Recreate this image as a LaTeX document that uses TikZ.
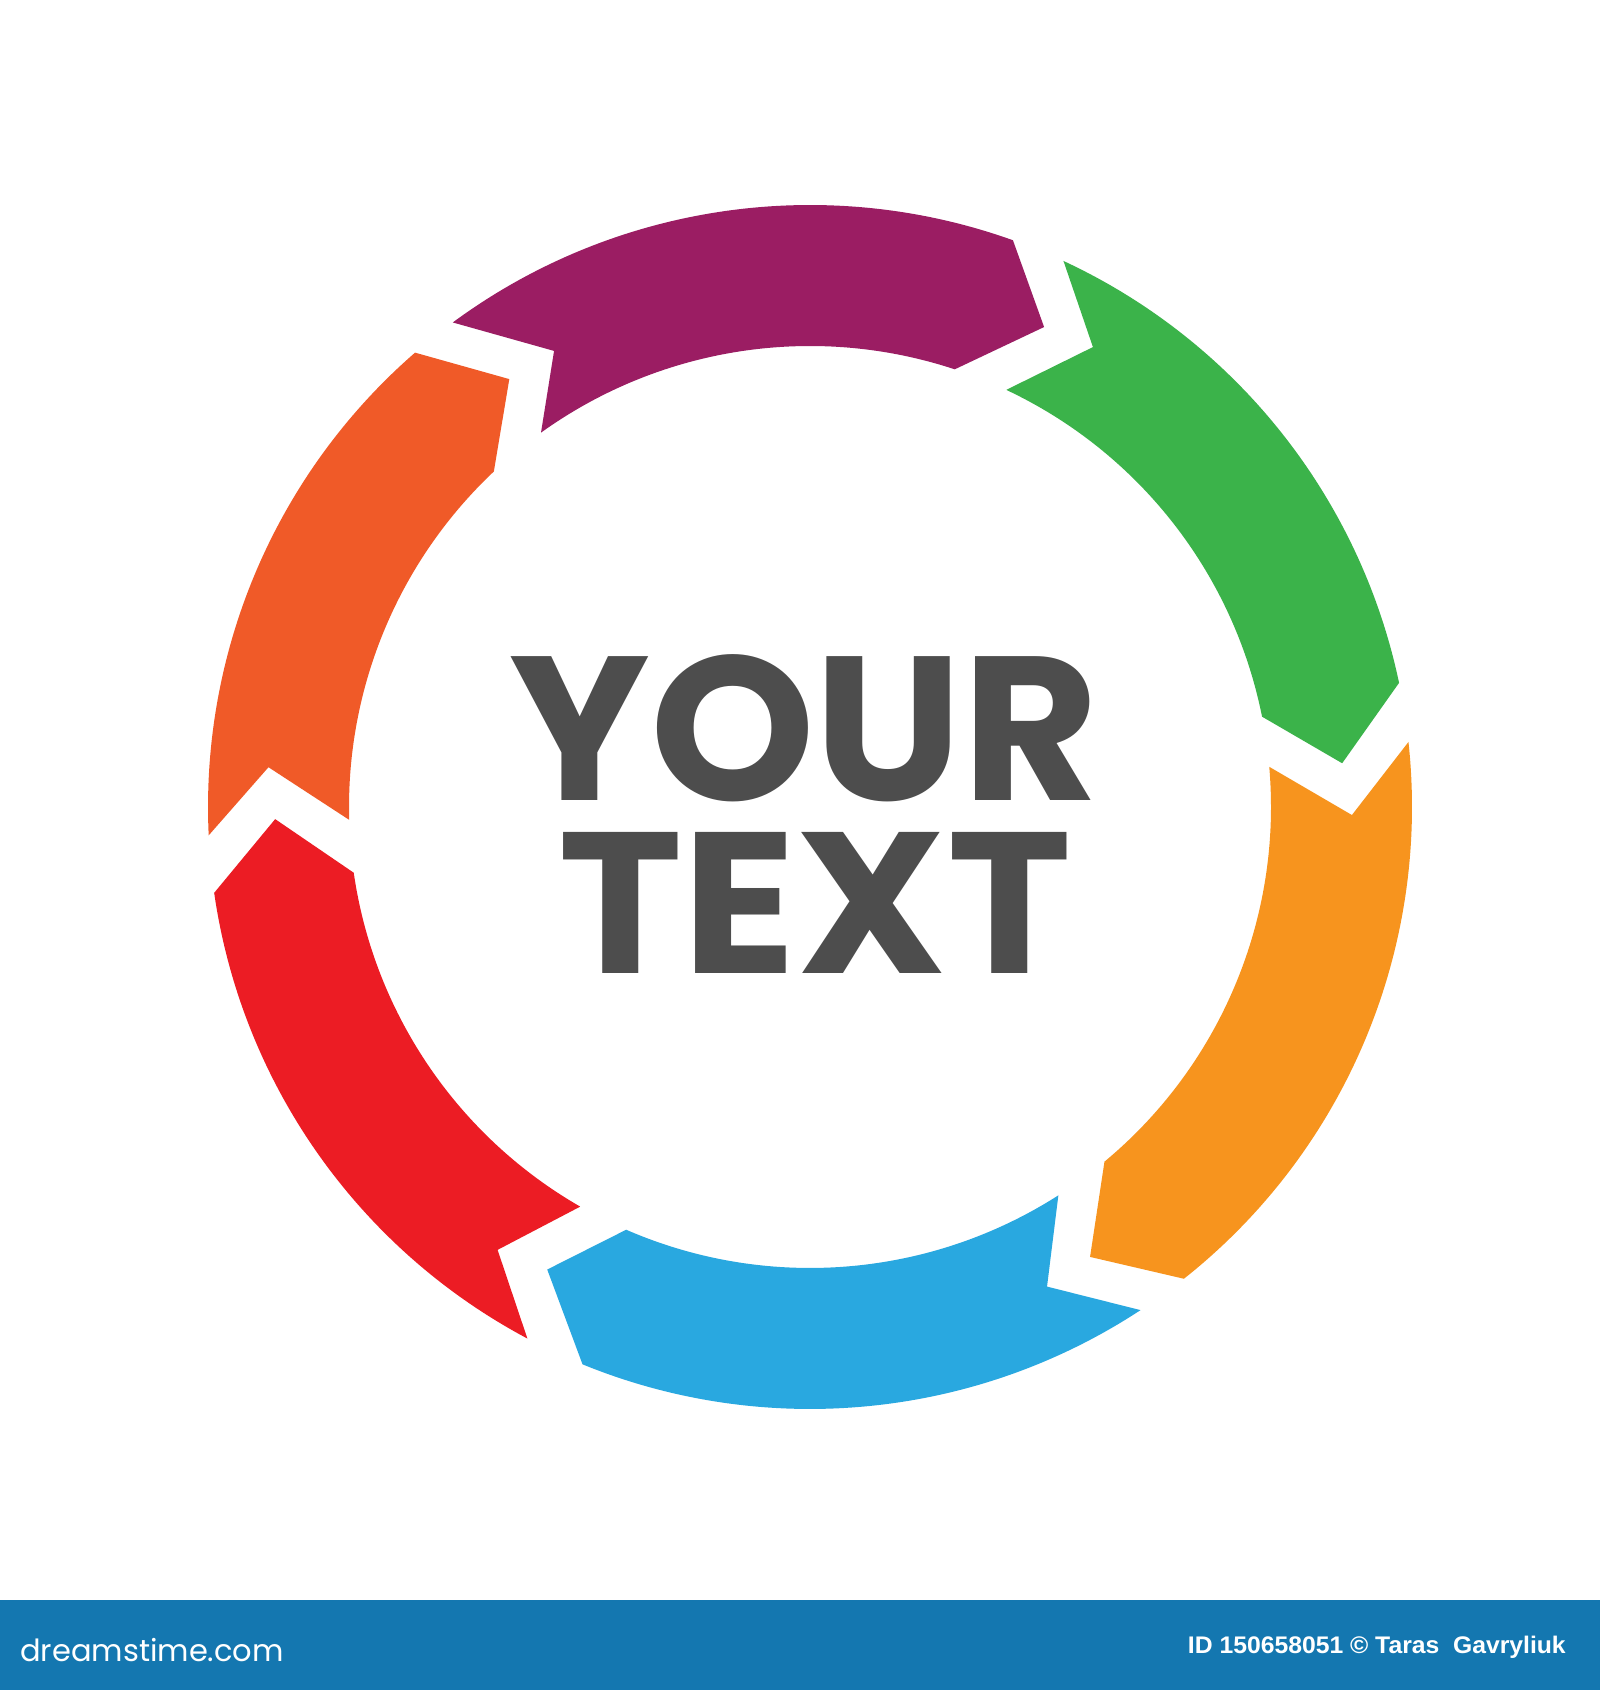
\documentclass[tikz,border=0pt]{standalone}
\usepackage{fontspec}
\setmainfont{Poppins}
\newfontfamily\barfont{Liberation Sans}
\definecolor{cpurple}{HTML}{9B1D63}
\definecolor{cgreen}{HTML}{3BB34A}
\definecolor{corange}{HTML}{F7941E}
\definecolor{cblue}{HTML}{29A8E0}
\definecolor{cred}{HTML}{EC1C24}
\definecolor{corangered}{HTML}{F05A28}
\definecolor{ctext}{HTML}{4D4D4D}
\definecolor{cbar}{HTML}{1477B0}
% 1 color, 2 tail outer, 3 notch angle, 4 tail inner, 5 head outer, 6 tip angle, 7 tip radius, 8 head inner, 9 notch radius
\newcommand\ringseg[9]{\fill[#1] (#2:602pt) arc[start angle=#2,end angle=#5,radius=602pt] -- (#6:#7pt) -- (#8:461pt) arc[start angle=#8,end angle=#4,radius=461pt] -- (#3:#9pt) -- cycle;}
\tikzset{
  bigtext/.style={anchor=base,text=ctext,inner sep=0pt,text height=140pt,text depth=0pt},
  bartext/.style={text=white,inner sep=0pt}
}
\begin{document}
\begin{tikzpicture}[x=1pt,y=1pt]
\useasboundingbox (0,0) rectangle (1600,1690);
\fill[white] (0,0) rectangle (1600,1690);
\begin{scope}[shift={(810,883)}]
\ringseg{cpurple}{126.4}{119.3}{125.7}{70.3}{64.0}{534}{71.7}{523}
\ringseg{cgreen}{65.1}{58.4}{64.8}{11.9}{4.7}{534}{11.3}{540}
\ringseg{corange}{6.2}{-0.85}{5.0}{-51.6}{-58.1}{530}{-50.3}{542}
\ringseg{cblue}{-56.7}{-63.7}{-57.4}{-112.2}{-119.6}{532}{-113.5}{535}
\ringseg{cred}{-118.0}{-125.2}{-119.9}{-171.8}{-178.7}{535}{-171.8}{542}
\ringseg{corangered}{182.7}{175.8}{181.6}{131.0}{125.1}{523}{133.3}{543}
\end{scope}
\node[bigtext,xscale=1.023,font=\bfseries\fontsize{205}{205}\selectfont] (your) at (804.5,889) {YOUR};
\node[bigtext,xscale=1.048,font=\bfseries\fontsize{201}{201}\selectfont] (text) at (815,716.5) {TEXT};
\fill[cbar] (0,0) rectangle (1600,90);
\node[bartext,anchor=base west,font=\fontsize{30.5}{30.5}\selectfont] (logo) at (20,28) {dreamstime.com};
\node[bartext,anchor=base east,xscale=1.03,font=\barfont\bfseries\fontsize{24}{24}\selectfont] (credit) at (1566,36.7) {ID 150658051 © Taras\ \ Gavryliuk};
\end{tikzpicture}
\end{document}
